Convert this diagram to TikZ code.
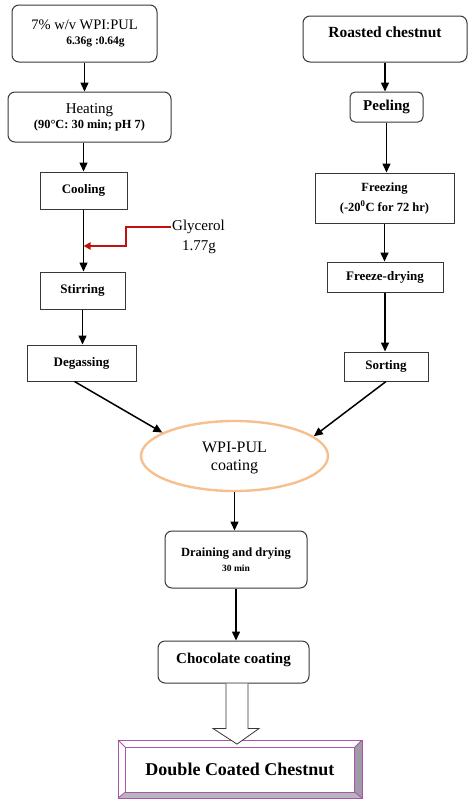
\documentclass[tikz,border=0pt]{standalone}
\usepackage{fontspec}
\setmainfont{Liberation Serif}
\usetikzlibrary{arrows.meta,shapes.geometric,calc}
\definecolor{ellor}{RGB}{246,192,142}
\definecolor{glyred}{RGB}{192,16,16}
\definecolor{bevpur}{RGB}{168,84,168}
\definecolor{bevgr}{RGB}{160,154,166}
\definecolor{bevgrb}{RGB}{186,180,192}
\definecolor{boxln}{RGB}{55,55,55}
\tikzset{
  rbox/.style={draw=boxln, line width=1pt, rounded corners=7pt, inner sep=0pt, align=center},
  sbox/.style={draw=boxln, line width=1pt, inner sep=0pt, align=center},
  arr/.style={line width=1.5pt, -{Triangle[length=9pt,width=8pt]}},
  redarr/.style={draw=glyred, line width=2pt, -{Triangle[length=7pt,width=7pt]}},
  bt/.style={font=\bfseries\fontsize{13}{15}\selectfont},
}
\begin{document}
\begin{tikzpicture}[x=1pt,y=-1pt]
\useasboundingbox (0,0) rectangle (474,801);
% left column
\node[rbox, minimum width=145pt, minimum height=57pt] (n1) at (84.5,33.5)
  {{\fontsize{14.5}{16}\selectfont 7\% w/v WPI:PUL}\\[3pt]
   \hspace*{22pt}{\bfseries\fontsize{11.5}{13}\selectfont 6.36g :0.64g}};
\node[rbox, minimum width=163pt, minimum height=50pt] (n2) at (89.5,117)
  {{\fontsize{15}{17}\selectfont Heating}\\[3pt]
   {\bfseries\fontsize{12.4}{14}\selectfont (90°C: 30 min; pH 7)}};
\node[sbox, bt, minimum width=87pt, minimum height=37pt] (n3) at (83.5,190.5) {Cooling};
\node[sbox, bt, minimum width=85pt, minimum height=37pt] (n4) at (82.5,290.5) {Stirring};
\node[sbox, bt, minimum width=109pt, minimum height=36pt] (n5) at (81.5,363) {Degassing};
% right column
\node[rbox, minimum width=164pt, minimum height=46pt, text depth=14pt, text height=11pt] (r1) at (385,39)
  {\bfseries\fontsize{15.5}{17}\selectfont Roasted chestnut};
\node[rbox, rounded corners=5pt, minimum width=73pt, minimum height=30pt, font=\bfseries\fontsize{15}{17}\selectfont] (r2) at (386.5,107) {Peeling};
\node[sbox, minimum width=139pt, minimum height=50pt, font=\bfseries\fontsize{12.5}{14}\selectfont] (r3) at (384.5,198)
  {Freezing\\[6pt] (-20\textsuperscript{0}C for 72 hr)};
\node[sbox, bt, minimum width=116pt, minimum height=30pt] (r4) at (385,277) {Freeze-drying};
\node[sbox, bt, minimum width=84pt, minimum height=29pt] (r5) at (386,366.5) {Sorting};
% glycerol
\node[font=\fontsize{15}{17}\selectfont, anchor=west, inner sep=1pt] (glyc) at (171,227) {Glycerol};
\node[font=\fontsize{15}{17}\selectfont] (glym) at (199,247) {1.77g};
\coordinate (gj) at (n3.south |- 0,246);
% center
\node[ellipse, draw=ellor, line width=2.4pt, minimum width=187pt, minimum height=70pt] (ell) at (234.5,456) {};
\node[align=center, font=\fontsize{16}{18}\selectfont] (ellt) at (234.5,458) {WPI-PUL\\[0pt]coating};
\node[rbox, minimum width=142pt, minimum height=57pt] (d1) at (236,559.5)
  {{\bfseries\fontsize{12.5}{14}\selectfont Draining and drying}\\[3pt]
   {\bfseries\fontsize{9.5}{10}\selectfont 30 min}};
\node[rbox, minimum width=151pt, minimum height=42pt, text depth=8pt, font=\bfseries\fontsize{15}{17}\selectfont] (c1) at (233.5,662) {Chocolate coating};
% final bevel box
\coordinate (fo1) at (118,740); \coordinate (fo2) at (362,798);
\coordinate (fi1) at (125.5,747.5); \coordinate (fi2) at (354.5,792);
\fill[bevgr] (fo2 |- fo1) -- (fo2) -- (fi2) -- (fi2 |- fi1) -- cycle;
\fill[bevgrb] (fo1 |- fo2) -- (fo2) -- (fi2) -- (fi1 |- fi2) -- cycle;
\draw[bevpur, line width=1pt] (fo1) rectangle (fo2);
\draw[bevpur, line width=0.8pt] (fo1) -- (fi1) (fo2) -- (fi2) (fo1 |- fo2) -- (fi1 |- fi2) (fo2 |- fo1) -- (fi2 |- fi1);
\node[draw=bevpur, line width=0.8pt, fill=white, minimum width=229pt, minimum height=44.5pt,
      font=\bfseries\fontsize{18}{20}\selectfont, inner sep=0pt] (fin) at (240,769.75) {Double Coated Chestnut};
% arrows
\draw[arr] (n1.south) -- (n1.south |- n2.north);
\draw[arr] (n3.north |- n2.south) -- (n3.north);
\draw[arr] (n3.south) -- (n3.south |- n4.north);
\draw[arr] (n4.south) -- (n4.south |- n5.north);
\draw[redarr] (glyc.west) -- ++(-45,0) |- (gj);
\draw[arr] (r1.south) -- (r1.south |- r2.north);
\draw[arr] (r2.south) -- (r2.south |- r3.north);
\draw[arr] (r3.south) -- (r3.south |- r4.north);
\draw[arr] (r4.south) -- (r4.south |- r5.north);
\draw[arr] ($(n5.south)+(-7,0)$) -- (ell.162);
\draw[arr] (r5.south) -- (ell.14);
\draw[arr] (ell.south) -- (ell.south |- d1.north);
\draw[arr] (d1.south) -- (d1.south |- c1.north);
\draw[line width=0.8pt, draw=boxln, fill=white]
  ($(c1.south)+(-7.5,0)$) -- ++(0,45) -- ++(-13,0) -- ($(fin.north)+(-3,-3)$) -- ($(c1.south)+(25.5,45)$) -- ++(-11,0) -- ($(c1.south)+(14.5,0)$);
\end{tikzpicture}
\end{document}
